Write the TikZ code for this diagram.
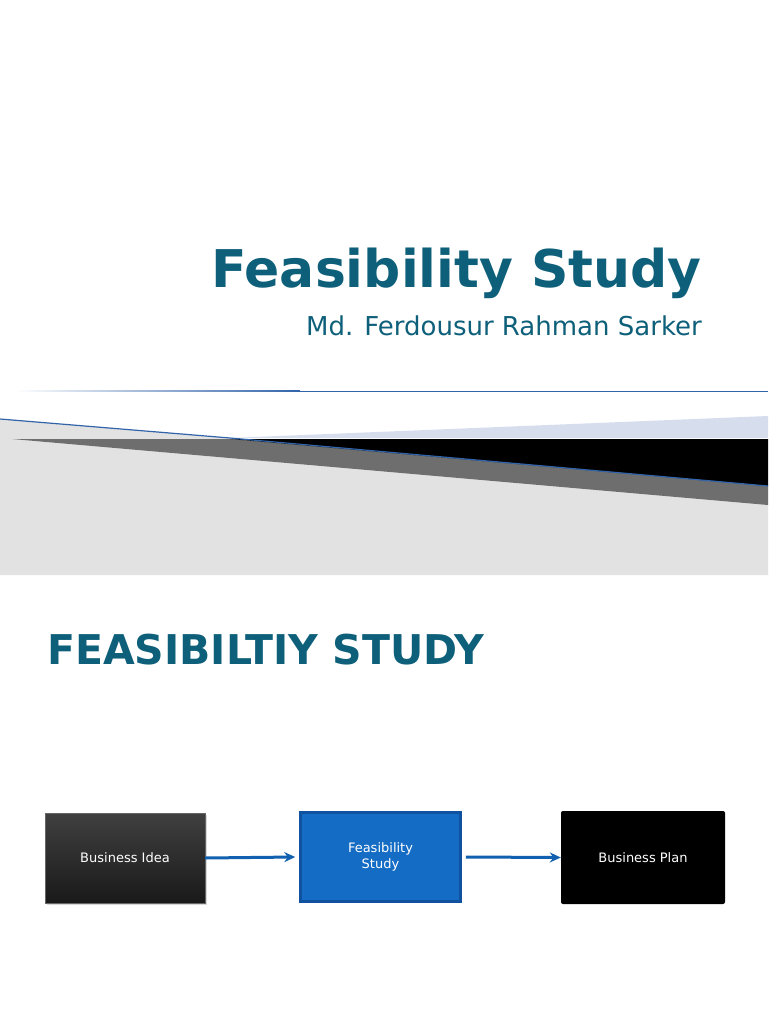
\documentclass[tikz,border=0pt]{standalone}
\usepackage{fontspec}
\setmainfont{DejaVu Sans}
\usetikzlibrary{arrows.meta,shadows}
\definecolor{teal}{RGB}{14,96,122}
\definecolor{fblue}{RGB}{20,108,196}
\definecolor{fbord}{RGB}{16,82,160}
\definecolor{lblue}{RGB}{214,222,238}
\definecolor{lgray}{RGB}{226,226,226}
\definecolor{dgray}{RGB}{110,110,110}
\definecolor{lineblue}{RGB}{50,100,170}
\tikzset{
 box/.style={minimum width=160pt,minimum height=90pt,text=white,font=\fontsize{13pt}{16pt}\selectfont,align=center,inner sep=2pt},
 flow/.style={-{Stealth[length=11pt,width=10pt]},line width=3pt,draw=fblue!90!black}
}
\begin{document}
\begin{tikzpicture}[x=1pt,y=-1pt]
\useasboundingbox (0,0) rectangle (768,1024);
\fill[white] (0,0) rectangle (768,1024);
% decorative band
\shade[left color=white,right color=lineblue] (15,390.5) rectangle (300,391.5);
\fill[lineblue] (300,390.5) rectangle (768,391.5);
\fill[lgray] (0,419) -- (230,438) -- (768,486) -- (768,575) -- (0,575) -- cycle;
\fill[lblue] (230,438) -- (768,416) -- (768,438) -- cycle;
\fill[dgray] (12,439) -- (230,439) -- (768,486) -- (768,505) -- cycle;
\fill[black] (230,439) -- (768,439) -- (768,486) -- cycle;
\draw[lineblue,line width=1.2pt] (0,419) -- (230,438) -- (768,486);
% titles
\node[anchor=base east,text=teal,font=\bfseries\fontsize{52pt}{60pt}\selectfont,inner sep=0] (t) at (702,287) {Feasibility Study};
\node[anchor=base east,text=teal,font=\fontsize{26pt}{30pt}\selectfont,inner sep=0] (s) at (702,335) {Md. Ferdousur Rahman Sarker};
\node[anchor=base west,text=teal,font=\bfseries\fontsize{41pt}{48pt}\selectfont,inner sep=0] (h) at (47,664) {FEASIBILTIY STUDY};
% flow
\node[box,top color=black!75,bottom color=black!90,draw=black!60,drop shadow={shadow xshift=2pt,shadow yshift=-2pt,opacity=0.3}] (a) at (125,858) {Business Idea};
\node[box,fill=fblue,draw=fbord,line width=2.5pt,minimum width=160pt,minimum height=89pt] (b) at (380.5,857) {Feasibility\\Study};
\node[box,fill=black,rounded corners=2pt,minimum width=164pt,minimum height=93pt] (c) at (643,857.5) {Business Plan};
\draw[flow] (a.east) -- ([xshift=-4pt]b.west);
\draw[flow] ([xshift=4pt]b.east) -- (c.west);
\end{tikzpicture}
\end{document}
